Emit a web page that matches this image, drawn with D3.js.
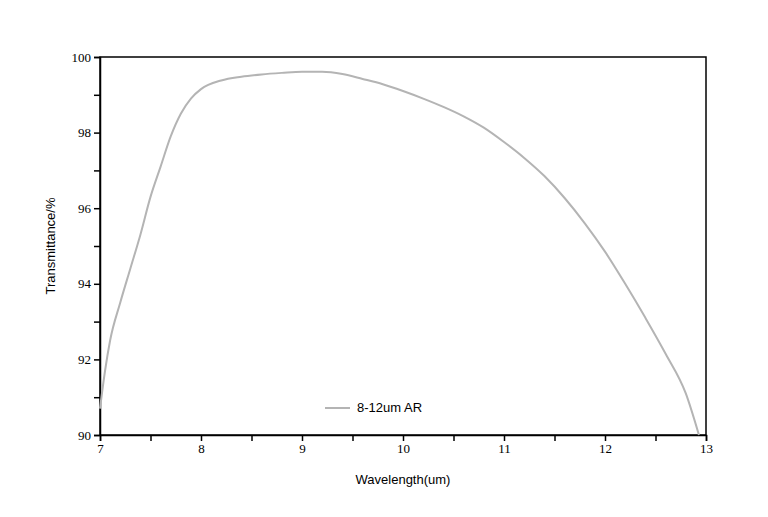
<!DOCTYPE html>
<html><head><meta charset="utf-8">
<script src="https://cdn.jsdelivr.net/npm/d3@7"></script>
<style>body{margin:0;background:#fff}</style></head>
<body><script>
var wavelength = [7.0,7.05,7.1,7.2,7.3,7.4,7.5,7.6,7.7,7.8,7.9,8.0,8.2,8.4,8.6,8.8,9.0,9.2,9.4,9.6,9.8,10.0,10.2,10.4,10.6,10.8,11.0,11.2,11.4,11.6,11.8,12.0,12.2,12.4,12.6,12.8,12.93];
var transmittance = [90.7,91.7,92.5,93.5,94.4,95.3,96.3,97.1,97.9,98.5,98.9,99.15,99.38,99.48,99.54,99.58,99.61,99.61,99.55,99.42,99.28,99.1,98.9,98.68,98.43,98.13,97.75,97.33,96.85,96.27,95.6,94.85,94.0,93.1,92.15,91.1,90.0];
var xTicks = [7,8,9,10,11,12,13];
var yTicks = [90,92,94,96,98,100];

var svg = d3.select("body").append("svg").attr("width",768).attr("height",517);
var x = d3.scaleLinear().domain([7,13]).range([100,706]);
var y = d3.scaleLinear().domain([90,100]).range([435,57]);

svg.append("rect").attr("x",100).attr("y",57).attr("width",606).attr("height",378)
    .attr("fill","none").attr("stroke","#000").attr("stroke-width",1.5);

var xa = svg.append("g").attr("transform","translate(0,435)")
    .call(d3.axisBottom(x).tickValues(d3.range(7,13.01,0.5)).tickSize(6)
    .tickFormat(function(d){ return xTicks.indexOf(d) >= 0 ? d : ""; }));
var ya = svg.append("g").attr("transform","translate(100,0)")
    .call(d3.axisLeft(y).tickValues(d3.range(90,100.01,1)).tickSize(6)
    .tickFormat(function(d){ return yTicks.indexOf(d) >= 0 ? d : ""; }));
[xa,ya].forEach(function(a){
    a.select(".domain").attr("stroke-width",1.5);
    a.selectAll("line").attr("stroke-width",1.5);
    a.selectAll("text").attr("font-family","Liberation Serif").attr("font-size",13).attr("fill","#000");
});

var line = d3.line().x(function(d,i){return x(wavelength[i]);}).y(function(d){return y(d);}).curve(d3.curveMonotoneX);
svg.append("path").datum(transmittance).attr("d",line).attr("fill","none")
    .attr("stroke","#b4b4b4").attr("stroke-width",2);

svg.append("text").attr("x",403).attr("y",484).attr("text-anchor","middle")
    .attr("font-family","Liberation Sans").attr("font-size",13).text("Wavelength(um)");
svg.append("text").attr("transform","translate(55,246) rotate(-90)").attr("text-anchor","middle")
    .attr("font-family","Liberation Sans").attr("font-size",13).text("Transmittance/%");

svg.append("line").attr("x1",325).attr("x2",350).attr("y1",408).attr("y2",408)
    .attr("stroke","#b4b4b4").attr("stroke-width",2);
svg.append("text").attr("x",357).attr("y",412).attr("font-family","Liberation Sans")
    .attr("font-size",13).text("8-12um AR");
</script></body></html>
